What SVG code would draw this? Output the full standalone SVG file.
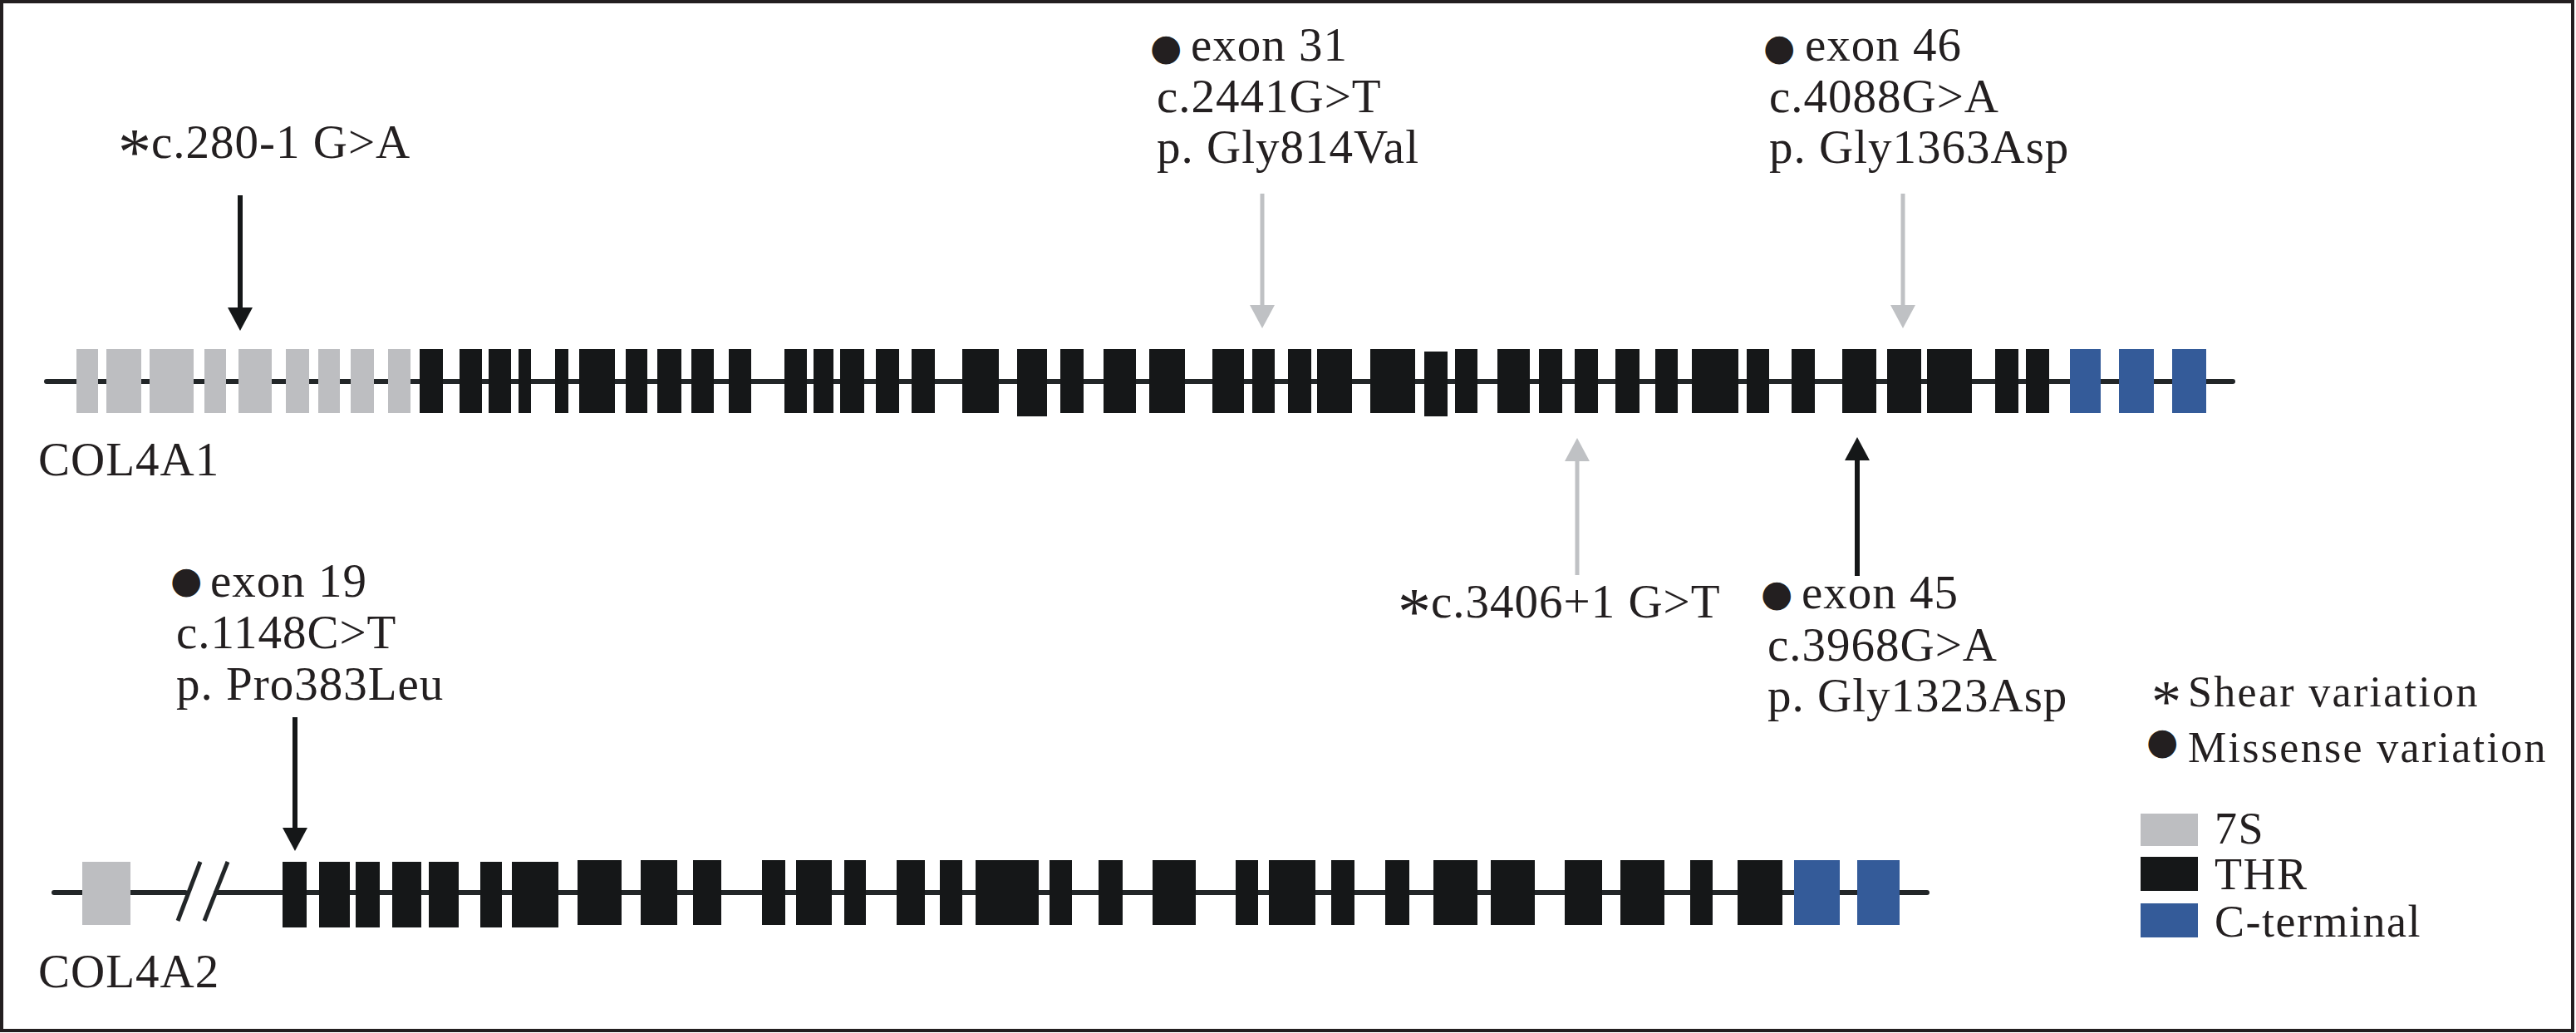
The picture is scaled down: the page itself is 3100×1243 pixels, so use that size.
<svg xmlns="http://www.w3.org/2000/svg" width="3100" height="1243" viewBox="0 0 3100 1243">
<style>
.s7{fill:#bdbec1}
.thr{fill:#151718}
.ct{fill:#345b99}
.bb{stroke:#222628;stroke-width:6;fill:none;stroke-linecap:round}
.ab{stroke:#151718;stroke-width:6;fill:none}
.ag{stroke:#bfc1c4;stroke-width:5;fill:none}
text{font-family:"Liberation Serif","Times New Roman",serif;font-size:57px;fill:#231f20;letter-spacing:1px}
.bul{font-family:"DejaVu Sans",sans-serif;font-size:44px;letter-spacing:0}
.ast{font-size:80px;letter-spacing:0}
.lg{font-size:54px;letter-spacing:1.5px}
.lv{font-size:52px;letter-spacing:2.3px}
</style>
<defs>
<marker id="hb" markerUnits="userSpaceOnUse" markerWidth="28" markerHeight="30" refX="0" refY="15" orient="auto"><path d="M0,0 L28,15 L0,30 z" fill="#151718"/></marker>
<marker id="hg" markerUnits="userSpaceOnUse" markerWidth="28" markerHeight="30" refX="0" refY="15" orient="auto"><path d="M0,0 L28,15 L0,30 z" fill="#bfc1c4"/></marker>
</defs>
<rect x="2" y="2" width="3094" height="1238" fill="#ffffff" stroke="#231f20" stroke-width="4"/>

<g id="col4a1">
<line class="bb" x1="56" y1="459" x2="2687" y2="459"/>
<g class="s7">
<rect x="92" y="420" width="26" height="77"/>
<rect x="128" y="420" width="42" height="77"/>
<rect x="180" y="420" width="53" height="77"/>
<rect x="246" y="420" width="26" height="77"/>
<rect x="287" y="420" width="40" height="77"/>
<rect x="344" y="420" width="28" height="77"/>
<rect x="383" y="420" width="26" height="77"/>
<rect x="422" y="420" width="28" height="77"/>
<rect x="467" y="420" width="27" height="77"/>
</g>
<g class="thr">
<rect x="505" y="420" width="28" height="77"/>
<rect x="553" y="420" width="27" height="77"/>
<rect x="588" y="420" width="27" height="77"/>
<rect x="624" y="420" width="15" height="77"/>
<rect x="668" y="420" width="16" height="77"/>
<rect x="697" y="420" width="43" height="77"/>
<rect x="753" y="420" width="26" height="77"/>
<rect x="791" y="420" width="29" height="77"/>
<rect x="832" y="420" width="27" height="77"/>
<rect x="877" y="420" width="27" height="77"/>
<rect x="944" y="420" width="27" height="77"/>
<rect x="979" y="420" width="24" height="77"/>
<rect x="1011" y="420" width="29" height="77"/>
<rect x="1054" y="420" width="28" height="77"/>
<rect x="1097" y="420" width="28" height="77"/>
<rect x="1158" y="420" width="44" height="77"/>
<rect x="1224" y="420" width="36" height="81"/>
<rect x="1276" y="420" width="28" height="77"/>
<rect x="1328" y="420" width="39" height="77"/>
<rect x="1383" y="420" width="43" height="77"/>
<rect x="1459" y="420" width="38" height="77"/>
<rect x="1507" y="420" width="27" height="77"/>
<rect x="1550" y="420" width="28" height="77"/>
<rect x="1585" y="420" width="42" height="77"/>
<rect x="1649" y="420" width="54" height="77"/>
<rect x="1714" y="423" width="28" height="78"/>
<rect x="1751" y="420" width="27" height="77"/>
<rect x="1802" y="420" width="39" height="77"/>
<rect x="1852" y="420" width="28" height="77"/>
<rect x="1895" y="420" width="28" height="77"/>
<rect x="1944" y="420" width="29" height="77"/>
<rect x="1992" y="420" width="27" height="77"/>
<rect x="2036" y="420" width="56" height="77"/>
<rect x="2102" y="420" width="27" height="77"/>
<rect x="2156" y="420" width="28" height="77"/>
<rect x="2217" y="420" width="41" height="77"/>
<rect x="2271" y="420" width="41" height="77"/>
<rect x="2319" y="420" width="54" height="77"/>
<rect x="2401" y="420" width="28" height="77"/>
<rect x="2438" y="420" width="28" height="77"/>
</g>
<g class="ct">
<rect x="2491" y="420" width="37" height="77"/>
<rect x="2550" y="420" width="42" height="77"/>
<rect x="2614" y="420" width="41" height="77"/>
</g>
<text x="46" y="572">COL4A1</text>
</g>

<g id="col4a2">
<line class="bb" x1="65" y1="1074" x2="223" y2="1074"/>
<line class="bb" x1="260" y1="1074" x2="2319" y2="1074"/>
<line stroke="#222628" stroke-width="5" x1="241" y1="1037" x2="214" y2="1108"/>
<line stroke="#222628" stroke-width="5" x1="274" y1="1037" x2="246" y2="1108"/>
<rect class="s7" x="99" y="1037" width="58" height="76"/>
<g class="thr">
<rect x="340" y="1037" width="29" height="79"/>
<rect x="384" y="1037" width="37" height="79"/>
<rect x="428" y="1037" width="29" height="79"/>
<rect x="472" y="1037" width="35" height="79"/>
<rect x="516" y="1037" width="36" height="79"/>
<rect x="578" y="1037" width="26" height="79"/>
<rect x="616" y="1037" width="56" height="79"/>
<rect x="695" y="1035" width="53" height="78"/>
<rect x="771" y="1035" width="44" height="78"/>
<rect x="834" y="1035" width="34" height="78"/>
<rect x="917" y="1035" width="28" height="78"/>
<rect x="958" y="1035" width="43" height="78"/>
<rect x="1016" y="1035" width="26" height="78"/>
<rect x="1079" y="1035" width="34" height="78"/>
<rect x="1131" y="1035" width="27" height="78"/>
<rect x="1174" y="1035" width="76" height="78"/>
<rect x="1263" y="1035" width="27" height="78"/>
<rect x="1322" y="1035" width="29" height="78"/>
<rect x="1387" y="1035" width="52" height="78"/>
<rect x="1487" y="1035" width="27" height="78"/>
<rect x="1527" y="1035" width="56" height="78"/>
<rect x="1602" y="1035" width="28" height="78"/>
<rect x="1667" y="1035" width="29" height="78"/>
<rect x="1725" y="1035" width="53" height="78"/>
<rect x="1794" y="1035" width="53" height="78"/>
<rect x="1883" y="1035" width="45" height="78"/>
<rect x="1950" y="1035" width="53" height="78"/>
<rect x="2034" y="1035" width="27" height="78"/>
<rect x="2091" y="1035" width="54" height="78"/>
</g>
<g class="ct">
<rect x="2159" y="1035" width="55" height="78"/>
<rect x="2235" y="1035" width="51" height="78"/>
</g>
<text x="46" y="1188">COL4A2</text>
</g>

<g id="connectors">
<line class="ab" x1="289" y1="235" x2="289" y2="370" marker-end="url(#hb)"/>
<line class="ag" x1="1519" y1="233" x2="1519" y2="367" marker-end="url(#hg)"/>
<line class="ag" x1="2290" y1="233" x2="2290" y2="367" marker-end="url(#hg)"/>
<line class="ag" x1="1898" y1="692" x2="1898" y2="555" marker-end="url(#hg)"/>
<line class="ab" x1="2235" y1="693" x2="2235" y2="554" marker-end="url(#hb)"/>
<line class="ab" x1="355" y1="863" x2="355" y2="996" marker-end="url(#hb)"/>
</g>

<g id="var-c280">
<text x="142" y="190"><tspan class="ast" dy="20">*</tspan><tspan dy="-20">c.280-1 G&gt;A</tspan></text>
</g>
<g id="var-exon31">
<text class="bul" x="1384" y="72">●</text>
<text x="1433" y="73">exon 31</text>
<text x="1392" y="135">c.2441G&gt;T</text>
<text x="1392" y="196">p. Gly814Val</text>
</g>
<g id="var-exon46">
<text class="bul" x="2122" y="72">●</text>
<text x="2172" y="73">exon 46</text>
<text x="2129" y="135">c.4088G&gt;A</text>
<text x="2129" y="196">p. Gly1363Asp</text>
</g>
<g id="var-c3406">
<text x="1682" y="743"><tspan class="ast" dy="20">*</tspan><tspan dy="-20">c.3406+1 G&gt;T</tspan></text>
</g>
<g id="var-exon45">
<text class="bul" x="2119" y="729">●</text>
<text x="2168" y="732">exon 45</text>
<text x="2127" y="795">c.3968G&gt;A</text>
<text x="2127" y="856">p. Gly1323Asp</text>
</g>
<g id="var-exon19">
<text class="bul" x="205" y="713">●</text>
<text x="253" y="718">exon 19</text>
<text x="212" y="780">c.1148C&gt;T</text>
<text x="212" y="842">p. Pro383Leu</text>
</g>

<g id="legend">
<text class="ast" x="2589" y="868" style="font-size:72px">*</text>
<text class="lv" x="2633" y="850">Shear variation</text>
<text class="bul" x="2583" y="907">●</text>
<text class="lv" x="2633" y="917">Missense variation</text>
<rect class="s7" x="2576" y="979" width="69" height="39"/>
<rect class="thr" x="2576" y="1031" width="69" height="41"/>
<rect class="ct" x="2576" y="1087" width="69" height="41"/>
<text class="lg" x="2665" y="1015">7S</text>
<text class="lg" x="2665" y="1070">THR</text>
<text class="lg" x="2665" y="1127">C-terminal</text>
</g>
</svg>
